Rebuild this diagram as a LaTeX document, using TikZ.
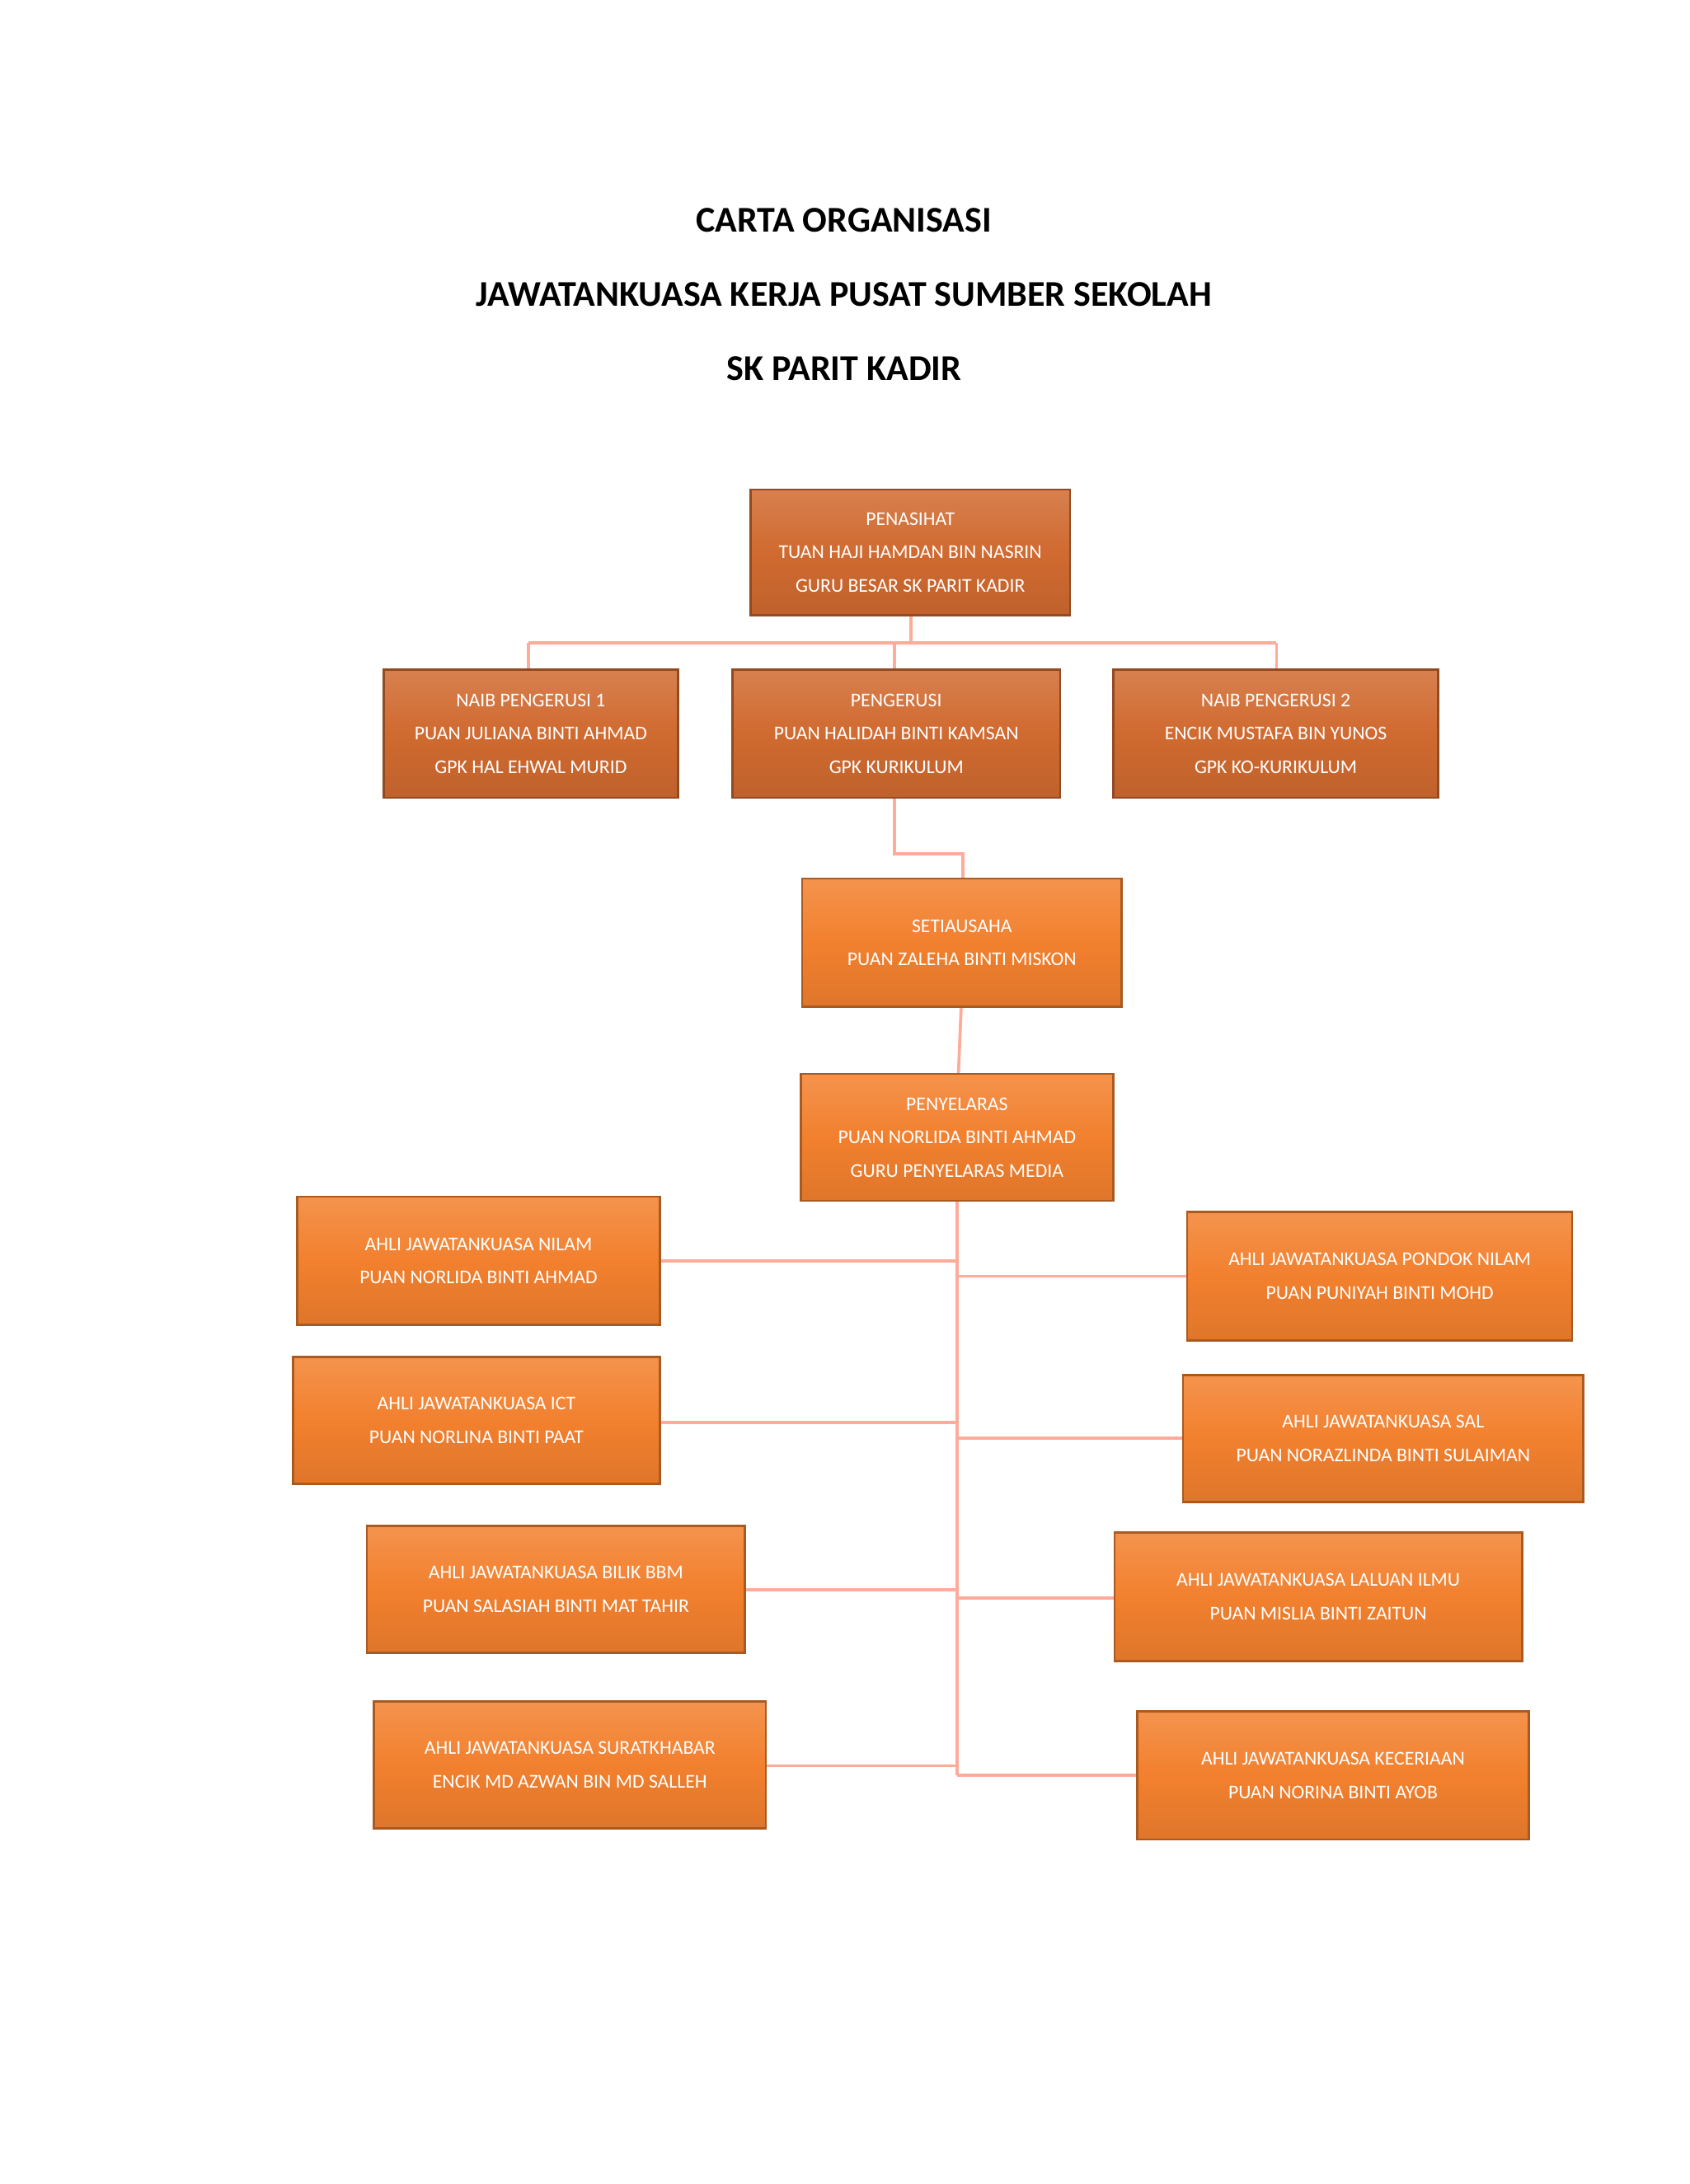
\documentclass[tikz,border=0pt]{standalone}
\usepackage{fontspec}
\setmainfont{Carlito}
\begin{document}
\begin{tikzpicture}[x=1pt,y=-1pt,
  bx/.style={draw=#1!70!black,line width=1.6pt,top color=#1!85!white,bottom color=#1!92!black,middle color=#1,
    text=white,font=\fontsize{14}{24}\selectfont,align=center,inner sep=0pt},
  ln/.style={draw=orange!35!red!40!white,line width=2.2pt},
  ttl/.style={font=\bfseries\fontsize{26}{30}\selectfont}]
\definecolor{dk}{HTML}{D06A30}
\definecolor{lt}{HTML}{F2802E}
\useasboundingbox (0,0) rectangle (1211,1566);
\node[ttl] (t1) at (605,158) {CARTA ORGANISASI};
\node[ttl] (t2) at (605,211) {JAWATANKUASA KERJA PUSAT SUMBER SEKOLAH};
\node[ttl] (t3) at (605,264) {SK PARIT KADIR};
\newcommand{\bxx}[6]{\node[bx=#6,minimum width={#4-#2},minimum height={#5-#3}] (#1) at ({(#2+#4)/2},{(#3+#5)/2}) {};}
% connectors first
\coordinate (h0) at (653,461);
\coordinate (hl) at (379,461);
\coordinate (hr) at (915,461);
\coordinate (hm) at (641,461);
\coordinate (s1) at (641,612);
\coordinate (s2) at (690,612);
\coordinate (p1) at (686,1273);
\draw[ln] (653,441) -- (h0);
\draw[ln] (hl) -- (hr);
\draw[ln] (hl) -- (379,480);
\draw[ln] (hm) -- (641,480);
\draw[ln] (hr) -- (915,480);
\draw[ln] (641,572) -- (s1) -- (s2) -- (690,630);
\draw[ln] (689,722) -- (687,770);
\draw[ln] (686,861) -- (p1);
\foreach \y/\a/\b in {904/473/686,1020/473/686,1140/534/686,1266/549/686,915/686/851,1031/686/848,1146/686/799,1273/686/815}
  \draw[ln] (\a,\y) -- (\b,\y);
\bxx{pen}{538}{351}{767}{441}{dk}
\bxx{n1}{275}{480}{486}{572}{dk}
\bxx{pg}{525}{480}{760}{572}{dk}
\bxx{n2}{798}{480}{1031}{572}{dk}
\bxx{se}{575}{630}{804}{722}{lt}
\bxx{py}{574}{770}{798}{861}{lt}
\bxx{l1}{213}{858}{473}{950}{lt}
\bxx{l2}{210}{973}{473}{1064}{lt}
\bxx{l3}{263}{1094}{534}{1185}{lt}
\bxx{l4}{268}{1220}{549}{1311}{lt}
\bxx{r1}{851}{869}{1127}{961}{lt}
\bxx{r2}{848}{986}{1135}{1077}{lt}
\bxx{r3}{799}{1099}{1091}{1191}{lt}
\bxx{r4}{815}{1227}{1096}{1319}{lt}
\tikzset{tx/.style={text=white,font=\fontsize{14}{24}\selectfont,align=center}}
\node[tx] at (pen) {PENASIHAT\\TUAN HAJI HAMDAN BIN NASRIN\\GURU BESAR SK PARIT KADIR};
\node[tx] at (n1) {NAIB PENGERUSI 1\\PUAN JULIANA BINTI AHMAD\\GPK HAL EHWAL MURID};
\node[tx] at (pg) {PENGERUSI\\PUAN HALIDAH BINTI KAMSAN\\GPK KURIKULUM};
\node[tx] at (n2) {NAIB PENGERUSI 2\\ENCIK MUSTAFA BIN YUNOS\\GPK KO-KURIKULUM};
\node[tx] at (se) {SETIAUSAHA\\PUAN ZALEHA BINTI MISKON};
\node[tx] at (py) {PENYELARAS\\PUAN NORLIDA BINTI AHMAD\\GURU PENYELARAS MEDIA};
\node[tx] at (l1) {AHLI JAWATANKUASA NILAM\\PUAN NORLIDA BINTI AHMAD};
\node[tx] at (l2) {AHLI JAWATANKUASA ICT\\PUAN NORLINA BINTI PAAT};
\node[tx] at (l3) {AHLI JAWATANKUASA BILIK BBM\\PUAN SALASIAH BINTI MAT TAHIR};
\node[tx] at (l4) {AHLI JAWATANKUASA SURATKHABAR\\ENCIK MD AZWAN BIN MD SALLEH};
\node[tx] at (r1) {AHLI JAWATANKUASA PONDOK NILAM\\PUAN PUNIYAH BINTI MOHD};
\node[tx] at (r2) {AHLI JAWATANKUASA SAL\\PUAN NORAZLINDA BINTI SULAIMAN};
\node[tx] at (r3) {AHLI JAWATANKUASA LALUAN ILMU\\PUAN MISLIA BINTI ZAITUN};
\node[tx] at (r4) {AHLI JAWATANKUASA KECERIAAN\\PUAN NORINA BINTI AYOB};
\end{tikzpicture}
\end{document}
